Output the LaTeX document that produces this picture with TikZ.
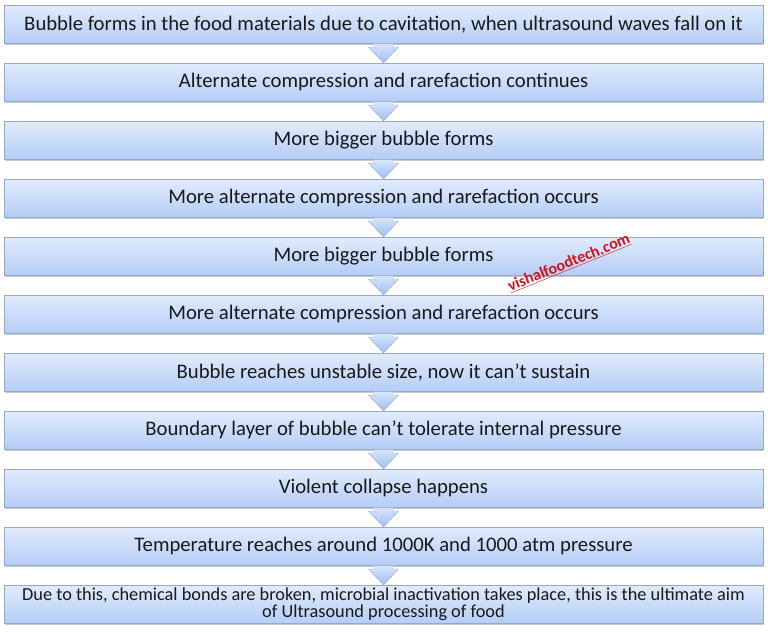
\documentclass[tikz,border=0pt]{standalone}
\usepackage{fontspec}
\setmainfont{Carlito}
\usepackage{xcolor}
\usetikzlibrary{calc, shadows}
\definecolor{boxtop}{HTML}{E1EBFC}
\definecolor{boxbot}{HTML}{B4CDF6}
\definecolor{boxline}{HTML}{94A9CC}
\definecolor{arrtop}{HTML}{DAE6FA}
\definecolor{arrbot}{HTML}{9DBDF1}
\definecolor{markred}{HTML}{D5121A}

\begin{document}
\begin{tikzpicture}[x=1pt,y=1pt,
    stepbox/.style={draw=boxline, top color=boxtop, bottom color=boxbot,
      minimum width=759pt, minimum height=38pt, inner sep=0pt, anchor=north,
      align=center, text=black!90, font=\fontsize{20.7}{23}\selectfont,
      drop shadow={shadow xshift=0.8pt, shadow yshift=-1.6pt, opacity=0.3, fill=black!70}},
    flowarrow/.style={draw=boxline, top color=arrtop, bottom color=arrbot}]
                    \useasboundingbox (0,0) rectangle (768,-643);
                    \foreach \txt [count=\i] in {
                        {Bubble forms in the food materials due to cavitation, when ultrasound waves fall on it},
                        {Alternate compression and rarefaction continues},
                        {More bigger bubble forms},
                        {More alternate compression and rarefaction occurs},
                        {More bigger bubble forms},
                        {More alternate compression and rarefaction occurs},
                        {Bubble reaches unstable size, now it can’t sustain},
                        {Boundary layer of bubble can’t tolerate internal pressure},
                        {Violent collapse happens},
                        {Temperature reaches around 1000K and 1000 atm pressure}}
                        \node[stepbox] (b\i) at (383.5,{-5-58*(\i-1)}) {\txt};
                    \node[stepbox, font=\fontsize{18.3}{17.5}\selectfont] (b11) at (383.5,-585)
                        {Due to this, chemical bonds are broken, microbial inactivation takes place, this is the ultimate aim\\of Ultrasound processing of food};
                    \foreach \i [count=\j from 2] in {1,...,10}
                        \draw[flowarrow] ($(b\i.south)+(-9.5,0)$) -- ($(b\j.north)+(-9.5,16)$)
                            -- ($(b\j.north)+(-15,16)$) -- (b\j.north) -- ($(b\j.north)+(15,16)$)
                            -- ($(b\j.north)+(9.5,16)$) -- ($(b\i.south)+(9.5,0)$) -- cycle;
                    \node[rotate=22, text=markred, font=\bfseries\fontsize{16}{18}\selectfont] (mark) at (569,-263) {\underline{vishalfoodtech.com}};
                \end{tikzpicture}
\end{document}
